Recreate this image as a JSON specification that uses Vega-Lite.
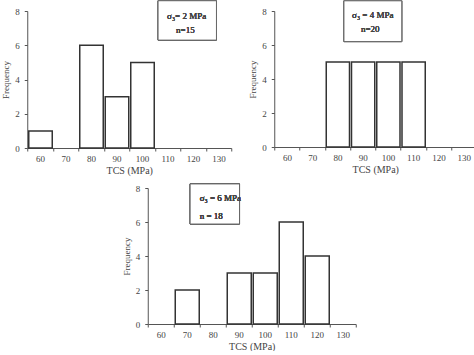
{
  "$schema": "https://vega.github.io/schema/vega-lite/v6.json",
  "padding": {"left": 1, "top": 0, "right": 0, "bottom": 0},
  "background": "white",
  "config": {
    "view": {"stroke": null},
    "axis": {
      "labelFont": "Liberation Serif", "titleFont": "Liberation Serif",
      "labelFontSize": 9, "titleFontSize": 10, "titleFontWeight": "normal",
      "labelColor": "#444", "titleColor": "#444", "labelOverlap": false,
      "domainColor": "#555", "tickColor": "#555", "tickSize": 3, "grid": false
    }
  },
  "datasets": {
    "p1": [
      {"bin_start": 55, "bin_end": 65, "freq": 1},
      {"bin_start": 75, "bin_end": 85, "freq": 6},
      {"bin_start": 85, "bin_end": 95, "freq": 3},
      {"bin_start": 95, "bin_end": 105, "freq": 5}
    ],
    "p2": [
      {"bin_start": 75, "bin_end": 85, "freq": 5},
      {"bin_start": 85, "bin_end": 95, "freq": 5},
      {"bin_start": 95, "bin_end": 105, "freq": 5},
      {"bin_start": 105, "bin_end": 115, "freq": 5}
    ],
    "p3": [
      {"bin_start": 65, "bin_end": 75, "freq": 2},
      {"bin_start": 85, "bin_end": 95, "freq": 3},
      {"bin_start": 95, "bin_end": 105, "freq": 3},
      {"bin_start": 105, "bin_end": 115, "freq": 6},
      {"bin_start": 115, "bin_end": 125, "freq": 4}
    ]
  },
  "spacing": 8,
  "center": true,
  "vconcat": [
    {
      "spacing": 16,
      "hconcat": [
        {
          "width": 204, "height": 137,
          "data": {"name": "p1"},
          "resolve": {"axis": {"x": "independent", "y": "independent"}},
          "layer": [
            {
              "mark": {"type": "bar", "fill": "white", "stroke": "#333", "strokeWidth": 1.5, "binSpacing": 2},
              "encoding": {
                "x": {"field": "bin_start", "type": "quantitative", "bin": "binned", "title": "TCS (MPa)",
                  "scale": {"domain": [55, 135], "nice": false, "zero": false},
                  "axis": {"values": [55,60,65,70,75,80,85,90,95,100,105,110,115,120,125,130,135],
                    "labelExpr": "datum.value % 10 === 0 ? datum.label : ''", "labelOverlap": false,
                    "tickOpacity": {"condition": {"test": "datum.value % 10 === 5", "value": 1}, "value": 0},
                    "labelPadding": 3, "titlePadding": 2}},
                "x2": {"field": "bin_end"},
                "y": {"field": "freq", "type": "quantitative", "title": "Frequency",
                  "scale": {"domain": [0, 8], "nice": false},
                  "axis": {"values": [0,2,4,6,8], "labelOverlap": false, "titleFontSize": 9, "labelPadding": 5, "titlePadding": 4}}
              }
            },
            {
              "mark": {"type": "rect", "fill": "white", "stroke": "#666", "strokeWidth": 1, "clip": false},
              "encoding": {
                "x": {"datum": 106.3, "type": "quantitative", "axis": null}, "x2": {"datum": 129.2},
                "y": {"datum": 8.6, "type": "quantitative", "axis": null}, "y2": {"datum": 6.3}
              }
            },
            {
              "mark": {"type": "text", "font": "Liberation Serif", "fontSize": 9, "color": "#444", "align": "center", "baseline": "middle"},
              "encoding": {
                "x": {"datum": 117.5, "type": "quantitative", "axis": null},
                "y": {"datum": 7.71, "type": "quantitative", "axis": null},
                "text": {"value": "σ₃= 2 MPa"}
              }
            },
            {
              "mark": {"type": "text", "font": "Liberation Serif", "fontSize": 9, "color": "#444", "align": "center", "baseline": "middle"},
              "encoding": {
                "x": {"datum": 117, "type": "quantitative", "axis": null},
                "y": {"datum": 6.89, "type": "quantitative", "axis": null},
                "text": {"value": "n=15"}
              }
            }
          ]
        },
        {
          "width": 202, "height": 136,
          "data": {"name": "p2"},
          "resolve": {"axis": {"x": "independent", "y": "independent"}},
          "layer": [
            {
              "mark": {"type": "bar", "fill": "white", "stroke": "#333", "strokeWidth": 1.5, "binSpacing": 2},
              "encoding": {
                "x": {"field": "bin_start", "type": "quantitative", "bin": "binned", "title": "TCS (MPa)",
                  "scale": {"domain": [55, 135], "nice": false, "zero": false},
                  "axis": {"values": [55,60,65,70,75,80,85,90,95,100,105,110,115,120,125,130,135],
                    "labelExpr": "datum.value % 10 === 0 ? datum.label : ''", "labelOverlap": false,
                    "tickOpacity": {"condition": {"test": "datum.value % 10 === 5", "value": 1}, "value": 0},
                    "labelPadding": 3, "titlePadding": 2}},
                "x2": {"field": "bin_end"},
                "y": {"field": "freq", "type": "quantitative", "title": "Frequency",
                  "scale": {"domain": [0, 8], "nice": false},
                  "axis": {"values": [0,2,4,6,8], "labelOverlap": false, "titleFontSize": 9, "labelPadding": 5, "titlePadding": 4}}
              }
            },
            {
              "mark": {"type": "rect", "fill": "white", "stroke": "#666", "strokeWidth": 1, "clip": false},
              "encoding": {
                "x": {"datum": 82.6, "type": "quantitative", "axis": null}, "x2": {"datum": 105.5},
                "y": {"datum": 8.6, "type": "quantitative", "axis": null}, "y2": {"datum": 6.2}
              }
            },
            {
              "mark": {"type": "text", "font": "Liberation Serif", "fontSize": 9, "color": "#444", "align": "center", "baseline": "middle"},
              "encoding": {
                "x": {"datum": 94, "type": "quantitative", "axis": null},
                "y": {"datum": 7.76, "type": "quantitative", "axis": null},
                "text": {"value": "σ₃ = 4 MPa"}
              }
            },
            {
              "mark": {"type": "text", "font": "Liberation Serif", "fontSize": 9, "color": "#444", "align": "center", "baseline": "middle"},
              "encoding": {
                "x": {"datum": 93, "type": "quantitative", "axis": null},
                "y": {"datum": 6.93, "type": "quantitative", "axis": null},
                "text": {"value": "n=20"}
              }
            }
          ]
        }
      ]
    },
    {
      "width": 208, "height": 136,
      "data": {"name": "p3"},
      "resolve": {"axis": {"x": "independent", "y": "independent"}},
      "layer": [
        {
          "mark": {"type": "bar", "fill": "white", "stroke": "#333", "strokeWidth": 1.5, "binSpacing": 2},
          "encoding": {
            "x": {"field": "bin_start", "type": "quantitative", "bin": "binned", "title": "TCS (MPa)",
              "scale": {"domain": [55, 135], "nice": false, "zero": false},
              "axis": {"values": [55,60,65,70,75,80,85,90,95,100,105,110,115,120,125,130,135],
                "labelExpr": "datum.value % 10 === 0 ? datum.label : ''", "labelOverlap": false,
                "tickOpacity": {"condition": {"test": "datum.value % 10 === 5", "value": 1}, "value": 0},
                "labelPadding": 3, "titlePadding": 2}},
            "x2": {"field": "bin_end"},
            "y": {"field": "freq", "type": "quantitative", "title": "Frequency",
              "scale": {"domain": [0, 8], "nice": false},
              "axis": {"values": [0,2,4,6,8], "labelOverlap": false, "titleFontSize": 9, "labelPadding": 5, "titlePadding": 4}}
          }
        },
        {
          "mark": {"type": "rect", "fill": "white", "stroke": "#666", "strokeWidth": 1, "clip": false},
          "encoding": {
            "x": {"datum": 71.3, "type": "quantitative", "axis": null}, "x2": {"datum": 90.3},
            "y": {"datum": 8.24, "type": "quantitative", "axis": null}, "y2": {"datum": 5.88}
          }
        },
        {
          "mark": {"type": "text", "font": "Liberation Serif", "fontSize": 9, "color": "#444", "align": "left", "baseline": "middle"},
          "encoding": {
            "x": {"datum": 75.0, "type": "quantitative", "axis": null},
            "y": {"datum": 7.41, "type": "quantitative", "axis": null},
            "text": {"value": "σ₃ = 6 MPa"}
          }
        },
        {
          "mark": {"type": "text", "font": "Liberation Serif", "fontSize": 9, "color": "#444", "align": "left", "baseline": "middle"},
          "encoding": {
            "x": {"datum": 75.0, "type": "quantitative", "axis": null},
            "y": {"datum": 6.35, "type": "quantitative", "axis": null},
            "text": {"value": "n = 18"}
          }
        }
      ]
    }
  ]
}
